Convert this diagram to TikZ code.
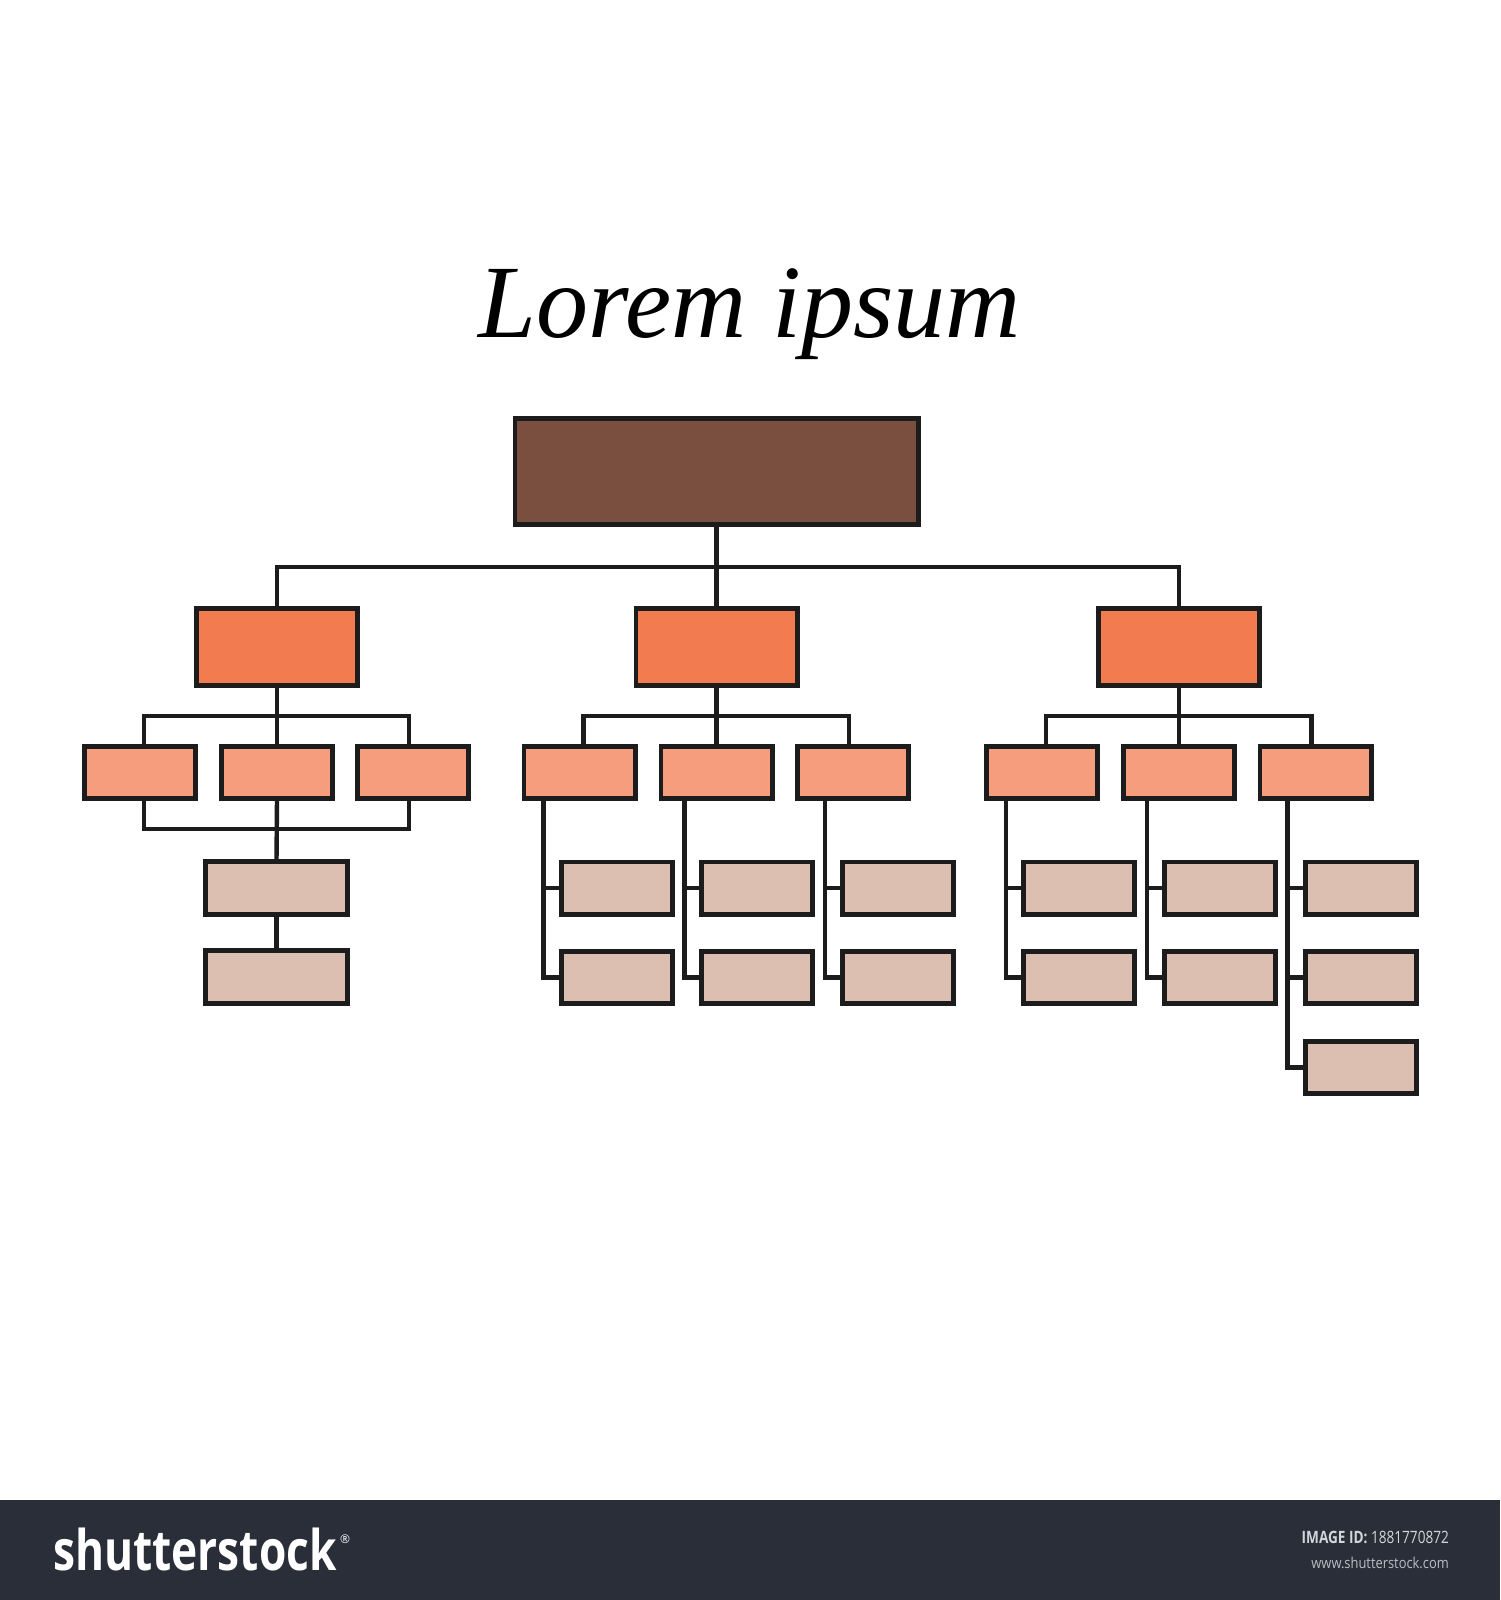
\documentclass[tikz,border=0pt]{standalone}
\usepackage{fontspec}
\setmainfont{Liberation Serif}
\newfontfamily\osans{Open Sans}
\definecolor{cTop}{HTML}{7B4F3F}
\definecolor{cOne}{HTML}{F27C50}
\definecolor{cTwo}{HTML}{F59D7D}
\definecolor{cThree}{HTML}{DDBFB2}
\definecolor{lc}{HTML}{1C1C1C}
\definecolor{banner}{HTML}{292E39}
\definecolor{idc}{HTML}{D2D5DA}
\definecolor{urlc}{HTML}{B9BDC5}
\tikzset{
  bx/.style={draw=lc, line width=4.6pt, inner sep=0pt, outer sep=0pt, rectangle},
  topbox/.style={bx, fill=cTop, minimum width=403.4pt, minimum height=106.4pt},
  lone/.style={bx, fill=cOne, minimum width=161.4pt, minimum height=77.4pt},
  ltwo/.style={bx, fill=cTwo, minimum width=111.4pt, minimum height=52.4pt},
  lthree/.style={bx, fill=cThree, minimum width=111.4pt, minimum height=52.4pt},
  lthreew/.style={lthree, minimum width=142.4pt, minimum height=53.4pt},
  conn/.style={draw=lc, line width=4.4pt},
}
\begin{document}
\begin{tikzpicture}[x=1pt, y=-1pt]
\useasboundingbox (0,0) rectangle (1500,1600);
\fill[white] (0,0) rectangle (1500,1600);

% title
\node[font=\fontsize{104}{110}\selectfont\itshape, anchor=base, inner sep=0pt] (title) at (750,337) {Lorem ipsum};

% top and level 1
\node[topbox] (top) at (716.5,471.5) {};
\node[lone] (l1a) at (277,647) {};
\node[lone] (l1b) at (716.5,647) {};
\node[lone] (l1c) at (1179,647) {};
\coordinate (j0) at (716.5,567);
\draw[conn] (top.south) -- (l1b.north);
\draw[conn] (l1a.north) -- (l1a.north |- j0) -- (l1c.north |- j0) -- (l1c.north);

% level 2
\node[ltwo] (l2a1) at (140,772.5) {};
\node[ltwo] (l2a2) at (277,772.5) {};
\node[ltwo] (l2a3) at (413,772.5) {};
\node[ltwo] (l2b1) at (579.5,772.5) {};
\node[ltwo] (l2b2) at (716.5,772.5) {};
\node[ltwo] (l2b3) at (853,772.5) {};
\node[ltwo] (l2c1) at (1042,772.5) {};
\node[ltwo] (l2c2) at (1179,772.5) {};
\node[ltwo] (l2c3) at (1315.5,772.5) {};

\coordinate (jbar) at (0,716);
\foreach \g in {a,b,c}{
  \coordinate (d\g1) at ([xshift=4pt]l2\g1.north);
  \coordinate (d\g3) at ([xshift=-4pt]l2\g3.north);
  \draw[conn] (l1\g.south) -- (l2\g2.north);
  \draw[conn] (d\g1) -- (d\g1 |- jbar) -- (d\g3 |- jbar) -- (d\g3);
}

% left group level 3
\node[lthreew] (l3a1) at (276.5,888) {};
\node[lthreew] (l3a2) at (276.5,977) {};
\coordinate (ea1) at ([xshift=4pt]l2a1.south);
\coordinate (ea3) at ([xshift=-4pt]l2a3.south);
\coordinate (ka) at (0,829);
\draw[conn] (ea1) -- (ea1 |- ka) -- (ea3 |- ka) -- (ea3);
\draw[conn] (l2a2.south) -- (l3a1.north);
\draw[conn] (l3a1.south) -- (l3a2.north);

% middle and right groups level 3
\foreach \n/\s/\t in {b1/-36/617, b2/-32/757, b3/-28/898, c1/-36/1079, c2/-32/1220, c3/-28/1361}{
  \node[lthree] (l3\n-a) at (\t,888) {};
  \node[lthree] (l3\n-b) at (\t,977.5) {};
  \coordinate (s\n) at ([xshift=\s pt]l2\n.south);
  \draw[conn] (s\n) |- (l3\n-b.west);
  \draw[conn] (s\n |- l3\n-a.west) -- (l3\n-a.west);
}
\node[lthree] (l3c3-c) at (1361,1067.5) {};
\draw[conn] (sc3) |- (l3c3-c.west);

% banner
\fill[banner] (0,1500) rectangle (1500,1600);
\node[anchor=base west, text=white, font=\osans\bfseries\fontsize{56}{60}\selectfont, xscale=0.79, inner sep=0pt] (logo) at (53,1570) {shutterstock};
\node[anchor=base west, text=white, font=\osans\fontsize{12}{12}\selectfont, inner sep=0pt] (reg) at (340,1543) {®};
\node[anchor=base east, text=idc, font=\osans\fontsize{17}{20}\selectfont, xscale=0.8, inner sep=0pt] (imgid) at (1449,1543) {\textbf{IMAGE ID:} 1881770872};
\node[anchor=base east, text=urlc, font=\osans\fontsize{15}{18}\selectfont, xscale=0.86, inner sep=0pt] (url) at (1449,1568) {www.shutterstock.com};
\end{tikzpicture}
\end{document}
